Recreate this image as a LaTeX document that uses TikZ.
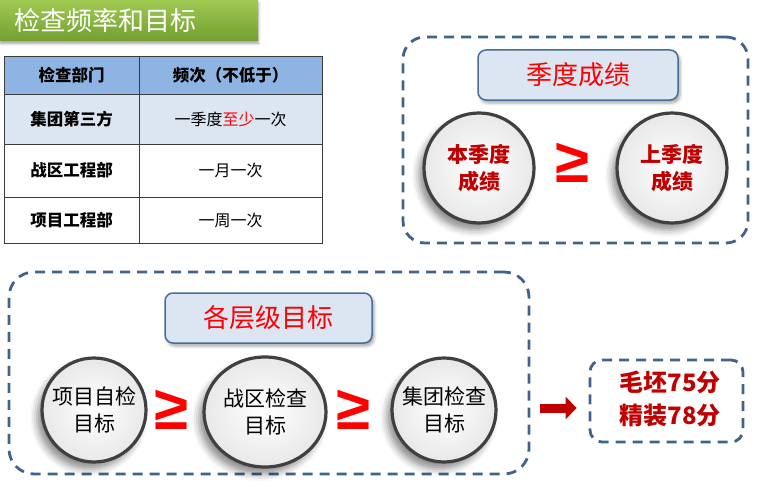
\documentclass[tikz,border=0pt]{standalone}
\usepackage{fontspec}
\setmainfont{Noto Sans CJK SC}
\newfontfamily\symfont{Liberation Sans}
\usetikzlibrary{shapes.geometric,shadows.blur,arrows.meta}
\definecolor{dashblue}{RGB}{65,98,140}
\definecolor{lblfill}{RGB}{220,230,242}
\definecolor{lbldraw}{RGB}{70,110,155}
\definecolor{hdrblue}{RGB}{141,180,226}
\definecolor{rowblue}{RGB}{220,230,241}
\definecolor{darkred}{RGB}{192,0,0}
\definecolor{gtop}{RGB}{160,201,82}
\definecolor{gbot}{RGB}{116,160,50}
\definecolor{ringgray}{RGB}{64,64,64}
\definecolor{gridgray}{RGB}{60,60,60}
\begin{document}
\begin{tikzpicture}[x=1pt,y=-1pt,
  dashbox/.style={draw=dashblue, line width=2.8pt, dash pattern=on 10pt off 7pt, rounded corners=22pt, inner sep=0pt},
  lblbox/.style={draw=lbldraw, line width=1.5pt, fill=lblfill, rounded corners=8pt, text=red, inner sep=0pt,
    font=\fontsize{26}{30}\selectfont,
    blur shadow={shadow xshift=2pt, shadow yshift=-3pt, shadow blur radius=3pt, shadow opacity=35}},
  ballshade/.style={draw=ringgray, line width=3.2pt, shading=radial, inner color=white, outer color=gray!18,
    inner sep=0pt, align=center,
    blur shadow={shadow xshift=-5pt, shadow yshift=-7pt, shadow blur radius=7pt, shadow opacity=45}},
  ball/.style={circle, ballshade, minimum size=#1},
  ball/.default=108pt,
  topball/.style={ball=110pt, text=darkred, font=\bfseries\fontsize{21}{27}\selectfont},
  botball/.style={font=\fontsize{21}{27}\selectfont, text=black},
  gesign/.style={text=red, font=\symfont\bfseries\fontsize{62}{62}\selectfont, inner sep=0pt},
  cell/.style={draw=gridgray, line width=0.8pt, inner sep=0pt, font=\fontsize{16}{19}\selectfont},
  leftcell/.style={cell, minimum width=135pt, font=\bfseries\fontsize{16.5}{19}\selectfont},
  rightcell/.style={cell, minimum width=183pt},
  result/.style={text=darkred, font=\bfseries\fontsize{24}{33}\selectfont, align=center}
]
\useasboundingbox (0,0) rectangle (760,487);

% title bar
\node (title) [anchor=north west, minimum width=258pt, minimum height=40pt, inner xsep=14pt, text width=230pt,
  top color=gtop, bottom color=gbot, text=white, font=\fontsize{26}{30}\selectfont,
  blur shadow={shadow xshift=0pt, shadow yshift=-3pt, shadow blur radius=3pt, shadow opacity=40}]
  at (0,0) {检查频率和目标};

% table
\node (h1) [leftcell, minimum height=38pt, fill=hdrblue] at (71.5,75) {检查部门};
\node (h2) [rightcell, minimum height=38pt, fill=hdrblue, font=\bfseries\fontsize{16.5}{19}\selectfont] at (230.5,75) {频次（不低于）};
\node (r1a) [leftcell, minimum height=50pt, fill=rowblue] at (71.5,119) {集团第三方};
\node (r1b) [rightcell, minimum height=50pt, fill=rowblue] at (230.5,119) {一季度\textcolor{red}{至少}一次};
\node (r2a) [leftcell, minimum height=53pt] at (71.5,170.5) {战区工程部};
\node (r2b) [rightcell, minimum height=53pt] at (230.5,170.5) {一月一次};
\node (r3a) [leftcell, minimum height=46pt] at (71.5,220) {项目工程部};
\node (r3b) [rightcell, minimum height=46pt] at (230.5,220) {一周一次};

% quarterly box
\node (qbox) [dashbox, minimum width=345pt, minimum height=206pt] at (575.5,140) {};
\node (qlbl) [lblbox, minimum width=200pt, minimum height=50pt] at (578,75) {季度成绩};
\node (qa) [topball] at (479,168) {本季度\\成绩};
\node (qb) [topball] at (672,168) {上季度\\成绩};
\node (qge) [gesign] at (573,163) {≥};

% level targets box
\node (lbox) [dashbox, minimum width=520pt, minimum height=202pt, rounded corners=25pt] at (269,373) {};
\node (llbl) [lblbox, minimum width=207pt, minimum height=50pt] at (268.5,318) {各层级目标};
\node (la) [ball=104pt, botball] at (94,410) {项目自检\\目标};
\node (lb) [ellipse, ballshade, minimum width=122pt, minimum height=110pt, botball] at (265,412) {战区检查\\目标};
\node (lc) [ball=104pt, botball] at (444,410) {集团检查\\目标};
\node (ge1) [gesign] at (172,410) {≥};
\node (ge2) [gesign] at (354,410) {≥};

% result
\node (rbox) [dashbox, rounded corners=12pt, minimum width=153pt, minimum height=82pt] at (666.5,401) {};
\node (rtext) [result] at (670,398.5) {毛坯75分\\精装78分};
\coordinate (arrs) at (540,408);
\draw [darkred, line width=9pt, -{Triangle[length=11pt,width=22pt]}] (arrs) -- ([xshift=-12pt]rbox.west |- arrs);
\end{tikzpicture}
\end{document}
